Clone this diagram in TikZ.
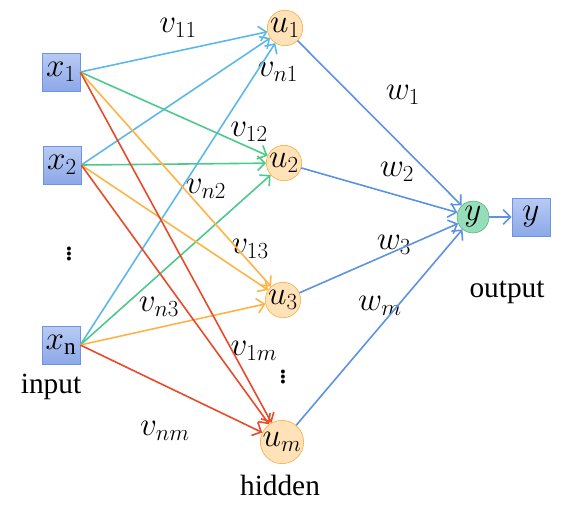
\documentclass[tikz,border=0pt]{standalone}
\usepackage{fontspec}
\setmainfont{Liberation Serif}
\usetikzlibrary{arrows.meta}
\definecolor{intop}{HTML}{B8CBF3}
\definecolor{inbottom}{HTML}{8DA8E8}
\definecolor{inedge}{HTML}{6E93E2}
\definecolor{hidfill}{HTML}{FFE2B8}
\definecolor{hidedge}{HTML}{F7A632}
\definecolor{outfill}{HTML}{96DDBA}
\definecolor{outedge}{HTML}{5AA880}
\definecolor{cblue}{HTML}{5CB8E6}
\definecolor{cgreen}{HTML}{4CC98B}
\definecolor{corange}{HTML}{FFB347}
\definecolor{cred}{HTML}{E84A2A}
\definecolor{cout}{HTML}{5C93E2}
\tikzset{
  inbox/.style={draw=inedge, top color=intop, bottom color=inbottom,
    minimum size=28.5pt, inner sep=0pt},
  hid/.style={circle, draw=hidedge, fill=hidfill, minimum size=24pt, inner sep=0pt},
  outcirc/.style={circle, draw=outedge, fill=outfill, minimum size=24pt, inner sep=0pt},
  word/.style={font=\rmfamily\fontsize{22}{26}\selectfont},
}
\begin{document}
\begin{tikzpicture}[x=0.75pt, y=-0.75pt, font=\fontsize{25}{30}\selectfont]
      \useasboundingbox (0,0) rectangle (567,522);
      \draw
        (61,72) node[inbox] (x1){$x_1$}
        (62,165) node[inbox] (x2){$x_2$}
        (69,250) node (xdots){$\vdots$}
        (61,345) node[inbox] (xn){$x_\mathrm{n}$}
        (51,387) node[word] (input){input}
        (285,28) node[hid] (u1){$u_1$}
        (284,163) node[hid] (u2){$u_2$}
        (283,300) node[hid] (u3){$u_3$}
        (283,373) node (udots){$\vdots$}
        (282,442) node[hid] (um){$u_m$}
        (280,485) node[word] (hidden){hidden}
        (473,217) node[outcirc] (yc){$y$}
        (531,217) node[inbox] (yb){$y$}
        (507,292) node[word] (output){output};
      \draw
        (178,28) node (v11){$v_{11}$}
        (278,72) node (vn1){$v_{n1}$}
        (249,132) node (v12){$v_{12}$}
        (206,189) node (vn2){$v_{n2}$}
        (250,249) node (v13){$v_{13}$}
        (159,307) node (vn3){$v_{n3}$}
        (254,351) node (v1m){$v_{1m}$}
        (165,431) node (vnm){$v_{nm}$}
        (403,95) node (w1){$w_1$}
        (397,172) node (w2){$w_2$}
        (394,245) node (w3){$w_3$}
        (380,306) node (wm){$w_m$};
      \begin{scope}[-{Straight Barb[length=5.5pt,width=11pt]}, line width=1.2pt]
        \draw[cblue] (x1.east) to (u1);
        \draw[cblue] (x2.east) to (u1);
        \draw[cblue] (xn.east) to (u1);
        \draw[cgreen] (x1.east) to (u2);
        \draw[cgreen] (x2.east) to (u2);
        \draw[cgreen] (xn.east) to (u2);
        \draw[corange] (x1.east) to (u3);
        \draw[corange] (x2.east) to (u3);
        \draw[corange] (xn.east) to (u3);
        \draw[cred] (x1.east) to (um);
        \draw[cred] (x2.east) to (um);
        \draw[cred] (xn.east) to (um);
        \draw[cout] (u1) to (yc);
        \draw[cout] (u2) to (yc);
        \draw[cout] (u3) to (yc);
        \draw[cout] (um) to (yc);
        \draw[cout] (yc) to (yb);
      \end{scope}
    \end{tikzpicture}
\end{document}
